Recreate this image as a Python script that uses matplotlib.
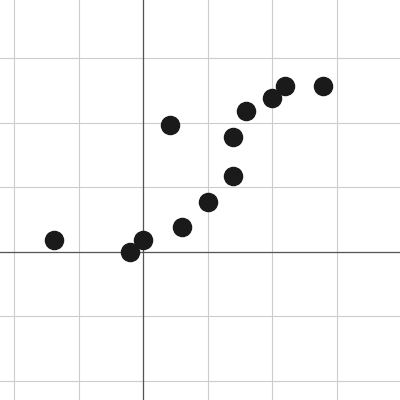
import matplotlib
matplotlib.use("Agg")
import matplotlib.pyplot as plt
import numpy as np

x_vals = [-1.38, -0.2, 0.0, 0.42, 0.6, 1.0, 1.4, 1.4, 1.6, 2.0, 2.2, 2.79]
y_vals = [0.19, 0.0, 0.19, 1.97, 0.39, 0.78, 1.18, 1.78, 2.19, 2.39, 2.57, 2.57]

fig = plt.figure(figsize=(4, 4), dpi=100)
ax = fig.add_axes([0, 0, 1, 1])
ax.set_xlim(-2.217, 3.984)
ax.set_ylim(-2.295, 3.907)

for v in np.arange(-2, 4):
    ax.axvline(v, color="#cccccc", lw=0.8, zorder=0)
for v in np.arange(-2, 4):
    ax.axhline(v, color="#cccccc", lw=0.8, zorder=0)
ax.axvline(0, color="#555555", lw=0.9, zorder=1)
ax.axhline(0, color="#555555", lw=0.9, zorder=1)

ax.scatter(x_vals, y_vals, s=170, color="#1a1a1a", zorder=3)

ax.set_xticks([])
ax.set_yticks([])
for s in ax.spines.values():
    s.set_visible(False)

fig.savefig("out.png", dpi=100)
